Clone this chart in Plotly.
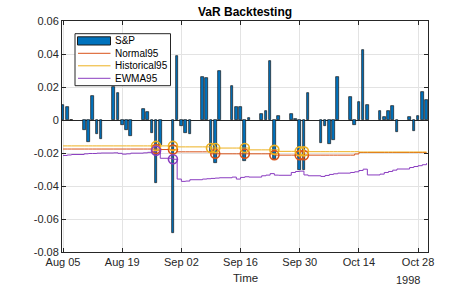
import plotly.graph_objects as go

# ---------------- data ----------------
dates = [
    "1998-08-05", "1998-08-06", "1998-08-07", "1998-08-10", "1998-08-11", "1998-08-12",
    "1998-08-13", "1998-08-14", "1998-08-17", "1998-08-18", "1998-08-19", "1998-08-20",
    "1998-08-21", "1998-08-24", "1998-08-25", "1998-08-26", "1998-08-27", "1998-08-28",
    "1998-08-31",
    "1998-09-01", "1998-09-02", "1998-09-03", "1998-09-04", "1998-09-07", "1998-09-08",
    "1998-09-09", "1998-09-10", "1998-09-11", "1998-09-14", "1998-09-15", "1998-09-16",
    "1998-09-17", "1998-09-18", "1998-09-21", "1998-09-22", "1998-09-23", "1998-09-24",
    "1998-09-25", "1998-09-28", "1998-09-29", "1998-09-30",
    "1998-10-01", "1998-10-02", "1998-10-05", "1998-10-06", "1998-10-07", "1998-10-08",
    "1998-10-09", "1998-10-12", "1998-10-13", "1998-10-14", "1998-10-15", "1998-10-16",
    "1998-10-19", "1998-10-20", "1998-10-21", "1998-10-22", "1998-10-23", "1998-10-26",
    "1998-10-27", "1998-10-28", "1998-10-29", "1998-10-30",
]

sp_returns = [
    0.0089, 0.0077, 0.0003, -0.0060, -0.0133, 0.0147, -0.0085, -0.0113, 0.0200, 0.0164,
    -0.0032, -0.0059, -0.0099, 0.0067, 0.0046, -0.0079, -0.0382, -0.0150, -0.0685,
    0.0390, -0.0036, -0.0079, -0.0087, 0.0259, 0.0255, -0.0196, -0.0260, 0.0295, 0.0208,
    0.0077, 0.0077, -0.0250, 0.0010, 0.0036, 0.0057, 0.0356, -0.0235, 0.0022, 0.0036,
    0.0006, -0.0300,
    -0.0306, 0.0164, -0.0140, -0.0038, -0.0145, -0.0120, 0.0263, 0.0141, -0.0032, 0.0109,
    0.0422, 0.0089, 0.0057, 0.0016, 0.0057, 0.0083, -0.0073, 0.0016, -0.0065, 0.0026,
    0.0170, 0.0123,
]

normal95 = [
    -0.0176, -0.0176, -0.0176, -0.0176, -0.0176, -0.0176, -0.0176, -0.0176, -0.0176, -0.0176,
    -0.0176, -0.0176, -0.0176, -0.0176, -0.0176, -0.0176, -0.0176, -0.0179, -0.0179,
    -0.0193, -0.0193, -0.0193, -0.0193, -0.0193, -0.0193, -0.0205, -0.0205, -0.0205, -0.0205,
    -0.0205, -0.0205, -0.0205, -0.0205, -0.0205, -0.0205, -0.0205, -0.0213, -0.0213, -0.0213,
    -0.0213, -0.0213,
    -0.0213, -0.0213, -0.0213, -0.0213, -0.0213, -0.0213, -0.0213, -0.0213, -0.0206, -0.0197,
    -0.0197, -0.0197, -0.0197, -0.0197, -0.0197, -0.0197, -0.0197, -0.0197, -0.0197, -0.0197,
    -0.0197, -0.0197,
]

historical95 = [
    -0.0157, -0.0157, -0.0157, -0.0157, -0.0157, -0.0157, -0.0157, -0.0157, -0.0157, -0.0157,
    -0.0157, -0.0157, -0.0157, -0.0157, -0.0157, -0.0157, -0.0157, -0.0157, -0.0157,
    -0.0163, -0.0163, -0.0163, -0.0163, -0.0163, -0.0163, -0.0170, -0.0170, -0.0170, -0.0170,
    -0.0170, -0.0170, -0.0170, -0.0181, -0.0181, -0.0181, -0.0181, -0.0181, -0.0190, -0.0190,
    -0.0190, -0.0190,
    -0.0190, -0.0192, -0.0192, -0.0192, -0.0192, -0.0192, -0.0192, -0.0192, -0.0192, -0.0194,
    -0.0194, -0.0194, -0.0194, -0.0194, -0.0194, -0.0194, -0.0194, -0.0194, -0.0194, -0.0194,
    -0.0194, -0.0194,
]

ewma95 = [
    -0.0215, -0.0212, -0.0209, -0.0205, -0.0203, -0.0203, -0.0201, -0.0200, -0.0199, -0.0202,
    -0.0207, -0.0205, -0.0201, -0.0199, -0.0196, -0.0192, -0.0186, -0.0232, -0.0238,
    -0.0358, -0.0372, -0.0370, -0.0362, -0.0358, -0.0356, -0.0354, -0.0352, -0.0350, -0.0346,
    -0.0358, -0.0348, -0.0344, -0.0346, -0.0338, -0.0334, -0.0325, -0.0334, -0.0335, -0.0318,
    -0.0312, -0.0310,
    -0.0333, -0.0338, -0.0342, -0.0336, -0.0330, -0.0326, -0.0322, -0.0318, -0.0314, -0.0306,
    -0.0298, -0.0333, -0.0328, -0.0318, -0.0312, -0.0304, -0.0297, -0.0288, -0.0282, -0.0277,
    -0.0271, -0.0262,
]

series_names = ["S&P", "Normal95", "Historical95", "EWMA95"]
x_tick_dates = ["1998-08-05", "1998-08-19", "1998-09-02", "1998-09-16",
                "1998-09-30", "1998-10-14", "1998-10-28"]
x_tick_labels = ["Aug 05", "Aug 19", "Sep 02", "Sep 16", "Sep 30", "Oct 14", "Oct 28"]
y_tick_vals = [-0.08, -0.06, -0.04, -0.02, 0, 0.02, 0.04, 0.06]
y_tick_labels = ["-0.08", "-0.06", "-0.04", "-0.02", "0", "0.02", "0.04", "0.06"]

# ---------------- styles ----------------
C_BAR = "#0072BD"
C_NORM = "#D95319"
C_HIST = "#EDB120"
C_EWMA = "#8A3CC0"
AX = "#262626"
FONT = "Liberation Sans, Arial, sans-serif"

W, H = 474, 285
L, R, T, B = 62, 46, 21, 33
PW, PH = W - L - R, H - T - B


def px_x(p):
    return (p - L) / PW


def px_y(p):
    return (T + PH - p) / PH


fig = go.Figure()

fig.add_trace(go.Bar(
    x=dates, y=sp_returns, name=series_names[0],
    width=0.62 * 86400000,
    marker=dict(color=C_BAR, line=dict(color="#1a1a1a", width=0.7)),
    showlegend=False,
))

var_models = [(normal95, C_NORM, series_names[1]),
              (historical95, C_HIST, series_names[2]),
              (ewma95, C_EWMA, series_names[3])]

for vals, col, nm in var_models:
    fig.add_trace(go.Scatter(
        x=dates, y=vals, mode="lines", line=dict(color=col, width=1, shape="hv"),
        name=nm, showlegend=False,
    ))

for vals, col, nm in var_models:
    idx = [i for i, (r, v) in enumerate(zip(sp_returns, vals)) if r < v]
    fig.add_trace(go.Scatter(
        x=[dates[i] for i in idx], y=[vals[i] for i in idx], mode="markers",
        marker=dict(symbol="circle-open", size=9, color=col, line=dict(width=1.6, color=col)),
        name=nm + " violations", showlegend=False,
    ))

# ---------------- manual legend ----------------
shapes = [
    dict(type="rect", xref="paper", yref="paper",
         x0=px_x(75), x1=px_x(170.5), y0=px_y(85.7), y1=px_y(33.7),
         line=dict(color=AX, width=1), fillcolor="white", layer="above"),
    dict(type="rect", xref="paper", yref="paper",
         x0=px_x(77.5), x1=px_x(110.5), y0=px_y(45), y1=px_y(36.8),
         line=dict(color="#1a1a1a", width=1), fillcolor=C_BAR, layer="above"),
]
legend_rows_y = [40.9, 53.3, 65.8, 78.3]
for (vals, col, nm), yy in zip(var_models, legend_rows_y[1:]):
    shapes.append(dict(type="line", xref="paper", yref="paper",
                       x0=px_x(78), x1=px_x(110.5), y0=px_y(yy), y1=px_y(yy),
                       line=dict(color=col, width=1), layer="above"))

annotations = []
for nm, yy in zip(series_names, legend_rows_y):
    annotations.append(dict(text=nm, xref="paper", yref="paper", x=px_x(113), y=px_y(yy),
                            xanchor="left", yanchor="middle", showarrow=False,
                            font=dict(family=FONT, size=10, color="#000000")))
annotations.append(dict(text="1998", xref="paper", yref="paper", x=px_x(407.5), y=px_y(279.5),
                        xanchor="center", yanchor="middle", showarrow=False,
                        font=dict(family=FONT, size=11, color=AX)))
annotations.append(dict(text="Time", xref="paper", yref="paper", x=px_x(245), y=px_y(278),
                        xanchor="center", yanchor="middle", showarrow=False,
                        font=dict(family=FONT, size=11.5, color=AX)))
annotations.append(dict(text="<b>VaR Backtesting</b>", xref="paper", yref="paper",
                        x=0.5, y=px_y(11.8), xanchor="center", yanchor="middle",
                        showarrow=False, font=dict(family=FONT, size=12, color="#000000")))

fig.update_layout(
    width=W, height=H,
    margin=dict(l=L, r=R, t=T, b=B, pad=0),
    paper_bgcolor="white", plot_bgcolor="white",
    font=dict(family=FONT, size=11, color=AX),
    showlegend=False,
    bargap=0,
    shapes=shapes, annotations=annotations,
)

fig.update_xaxes(
    type="date",
    range=["1998-08-04 18:00", "1998-10-30 08:24"],
    tickvals=x_tick_dates, ticktext=x_tick_labels,
    showgrid=True, gridcolor="#E3E3E3", gridwidth=1,
    showline=True, linecolor=AX, linewidth=1, mirror="ticks",
    ticks="inside", ticklen=4, tickcolor=AX, tickwidth=1,
    tickfont=dict(family=FONT, size=11, color=AX),
    zeroline=False, automargin=False,
)
fig.update_yaxes(
    range=[-0.08, 0.06],
    tickvals=y_tick_vals, ticktext=y_tick_labels,
    showgrid=True, gridcolor="#E3E3E3", gridwidth=1,
    showline=True, linecolor=AX, linewidth=1, mirror="ticks",
    ticks="inside", ticklen=4, tickcolor=AX, tickwidth=1,
    tickfont=dict(family=FONT, size=11, color=AX),
    zeroline=True, zerolinecolor=AX, zerolinewidth=1,
    automargin=False,
)

fig.write_html("out.html")
